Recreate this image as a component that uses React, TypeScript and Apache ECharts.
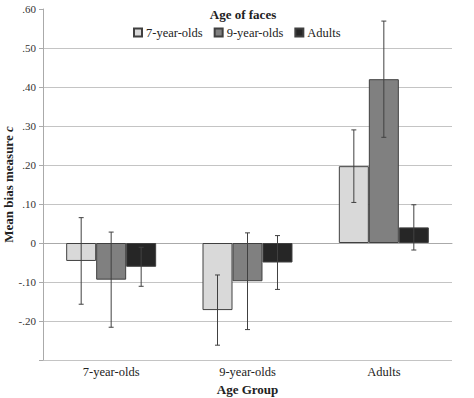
import React, { useEffect, useRef } from "react";
import * as echarts from "echarts";

const categories = ["7-year-olds", "9-year-olds", "Adults"];
const seriesNames = ["7-year-olds", "9-year-olds", "Adults"];
const means7 = [-0.046, -0.172, 0.197];
const means9 = [-0.094, -0.098, 0.42];
const meansAdult = [-0.061, -0.05, 0.04];
const err7 = [0.111, 0.09, 0.093];
const err9 = [0.122, 0.124, 0.149];
const errAdult = [0.05, 0.069, 0.058];
const colors = ["#d9d9d9", "#808080", "#262626"];

const FONT = "'Liberation Serif', 'Times New Roman', serif";

function fmt(v: number): string {
  if (Math.abs(v + 0.3) < 1e-9) return "";
  if (Math.abs(v) < 1e-9) return "0";
  const s = Math.abs(v).toFixed(2).replace(/^0/, "");
  return (v < 0 ? "-" : "") + s;
}

export default function App() {
  const ref = useRef<HTMLDivElement>(null);
  useEffect(() => {
    const chart = echarts.init(ref.current!, null, { renderer: "svg" });
    const allMeans = [means7, means9, meansAdult];
    const allErr = [err7, err9, errAdult];
    const barCatGap = 0.34;

    const barSeries = seriesNames.map((name, i) => ({
      name,
      type: "bar",
      data: allMeans[i],
      barGap: "0%",
      barCategoryGap: "34%",
      itemStyle: { color: colors[i], borderColor: "#404040", borderWidth: 1 },
      z: 2,
    }));

    const errSeries = seriesNames.map((name, i) => ({
      name: name + "-err",
      type: "custom",
      z: 5,
      silent: true,
      data: categories.map((_, c) => [c, allMeans[i][c] - allErr[i][c], allMeans[i][c] + allErr[i][c]]),
      encode: { x: 0, y: [1, 2] },
      renderItem: (params: any, api: any) => {
        const c = api.value(0);
        const lowPt = api.coord([c, api.value(1)]);
        const highPt = api.coord([c, api.value(2)]);
        const band = api.size([1, 0])[0];
        const bw = (band * (1 - barCatGap)) / 3;
        const x = lowPt[0] + (i - 1) * bw;
        const cap = 2.5;
        const style = { stroke: "#404040", lineWidth: 1 };
        return {
          type: "group",
          children: [
            { type: "line", shape: { x1: x, y1: highPt[1], x2: x, y2: lowPt[1] }, style },
            { type: "line", shape: { x1: x - cap, y1: highPt[1], x2: x + cap, y2: highPt[1] }, style },
            { type: "line", shape: { x1: x - cap, y1: lowPt[1], x2: x + cap, y2: lowPt[1] }, style },
          ],
        };
      },
    }));

    chart.setOption({
      animation: false,
      textStyle: { fontFamily: FONT },
      title: {
        text: "Age of faces",
        left: 238,
        textAlign: "center",
        top: 3,
        textStyle: { fontFamily: FONT, fontSize: 13, fontWeight: "bold", color: "#222" },
      },
      legend: {
        data: seriesNames,
        left: 128,
        top: 21,
        itemWidth: 8,
        itemHeight: 8,
        itemGap: 11,
        icon: "rect",
        textStyle: { fontFamily: FONT, fontSize: 12.5, color: "#222", padding: [0, 0, 0, -1] },
      },
      grid: { left: 43, right: 22, top: 9, bottom: 38, containLabel: false, outerBoundsMode: "none" },
      xAxis: {
        type: "category",
        data: categories,
        name: "Age Group",
        nameLocation: "middle",
        nameGap: 23,
        nameMoveOverlap: false,
        nameTextStyle: { fontFamily: FONT, fontSize: 13, fontWeight: "bold", color: "#222" },
        axisLine: { lineStyle: { color: "#aaaaaa" } },
        axisTick: { show: false },
        axisLabel: { fontFamily: FONT, fontSize: 12.5, color: "#222", margin: 5 },
      },
      yAxis: {
        type: "value",
        min: -0.3,
        max: 0.6,
        interval: 0.1,
        name: "{b|Mean bias measure }{i|c}",
        nameLocation: "middle",
        nameGap: 28,
        nameRotate: 90,
        nameMoveOverlap: false,
        nameTextStyle: {
          rich: {
            b: { fontFamily: FONT, fontSize: 13, fontWeight: "bold", color: "#222" },
            i: { fontFamily: FONT, fontSize: 13, fontWeight: "bold", fontStyle: "italic", color: "#222" },
          },
        },
        axisLine: { show: true, lineStyle: { color: "#aaaaaa" } },
        axisTick: { show: true, length: 4, lineStyle: { color: "#aaaaaa" } },
        axisLabel: { fontFamily: FONT, fontSize: 11, color: "#333", margin: 7, formatter: fmt },
        splitLine: { show: true, showMaxLine: false, lineStyle: { color: "#c4c4c4", width: 1 } },
      },
      series: [...barSeries, ...errSeries],
    });
    return () => chart.dispose();
  }, []);
  return <div ref={ref} style={{ width: 474, height: 398, position: "absolute", left: 0, top: 0 }} />;
}
